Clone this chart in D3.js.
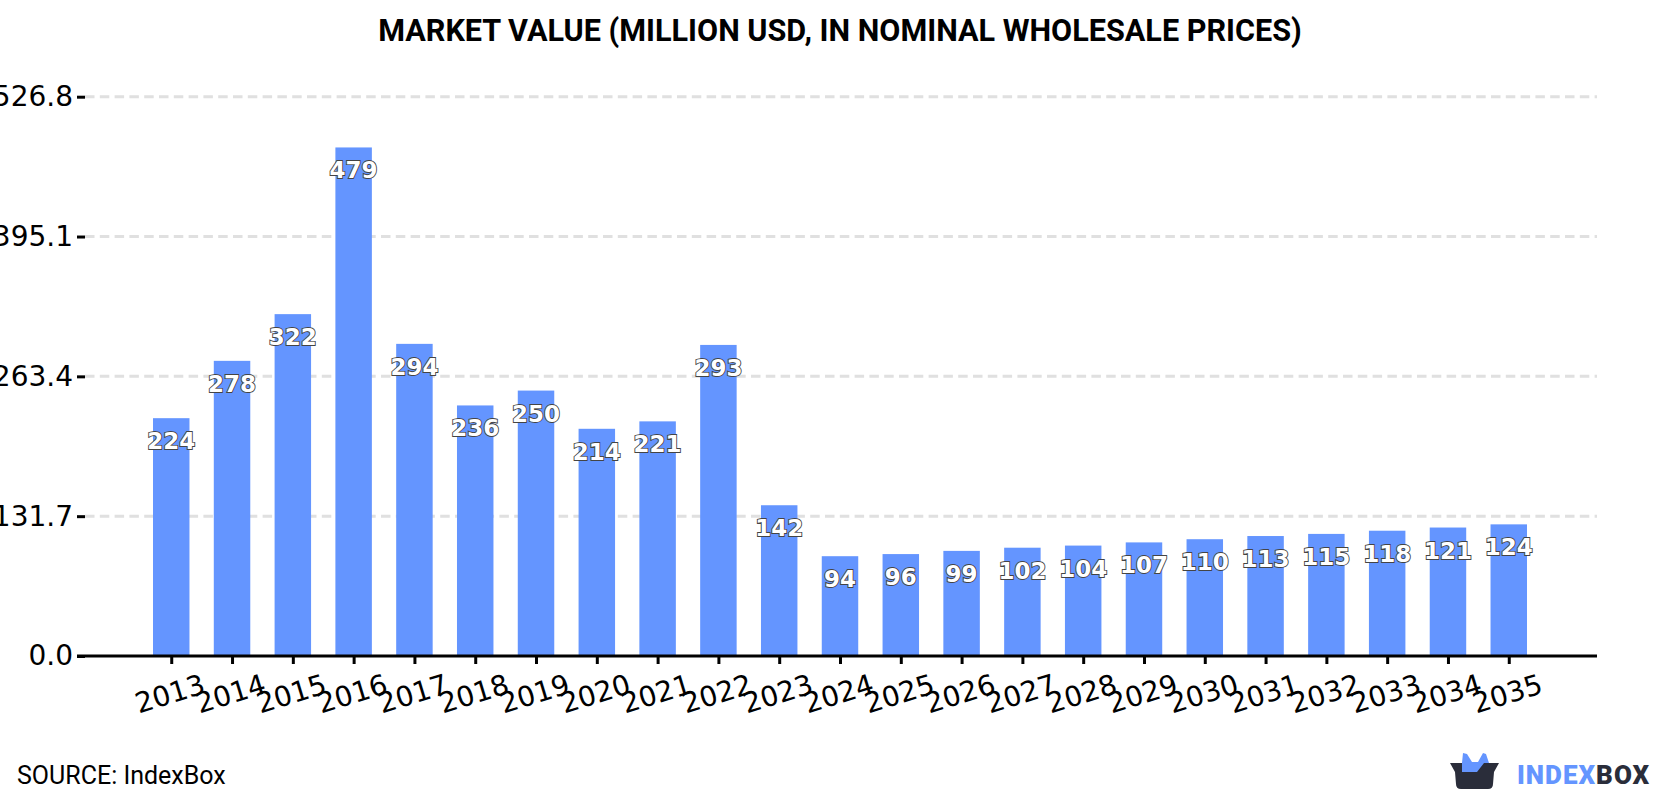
<!DOCTYPE html>
<html>
<head>
<meta charset="utf-8">
<script src="https://cdn.jsdelivr.net/npm/d3@7"></script>
<style>
  html, body { margin: 0; padding: 0; background: #fff; overflow: hidden; }
  svg { display: block; }
</style>
</head>
<body>
<svg id="chart" width="1680" height="800"></svg>
<script>
const years = ["2013","2014","2015","2016","2017","2018","2019","2020","2021","2022","2023","2024","2025","2026","2027","2028","2029","2030","2031","2032","2033","2034","2035"];
const marketValue = [224,278,322,479,294,236,250,214,221,293,142,94,96,99,102,104,107,110,113,115,118,121,124];
const valueTicks = [0,131.7,263.4,395.1,526.8];
const titleText = "MARKET VALUE (MILLION USD, IN NOMINAL WHOLESALE PRICES)";
const sourceText = "SOURCE: IndexBox";

const svg = d3.select("#chart");
const x = d3.scaleBand().domain(years).range([153, 1527]).paddingInner(0.4).paddingOuter(0);
const y = d3.scaleLinear().domain([0, 526.8]).range([656, 96.7]);
const tickX = d => x(d) + x.bandwidth() / 2;

svg.append("text")
  .attr("x", 840).attr("y", 41)
  .attr("text-anchor", "middle")
  .style("font", "700 30.6px Roboto")
  .attr("fill", "#000")
  .text(titleText);

// Horizontal dashed guides behind the bars
svg.append("g").selectAll("line")
  .data(valueTicks.filter(v => v > 0))
  .join("line")
  .attr("x1", 85).attr("x2", 1597)
  .attr("y1", d => y(d)).attr("y2", d => y(d))
  .attr("stroke", "#e0e0e0").attr("stroke-width", 3)
  .attr("stroke-dasharray", "9.5 5.3");

svg.append("g").selectAll("rect")
  .data(years)
  .join("rect")
  .attr("x", d => x(d))
  .attr("width", x.bandwidth())
  .attr("y", (d, i) => y(marketValue[i]))
  .attr("height", (d, i) => y(0) - y(marketValue[i]))
  .attr("fill", "#6495ff");

// Value axis
const yAxis = d3.axisLeft(y).tickValues(valueTicks).tickFormat(d3.format(".1f")).tickSize(8).tickPadding(4);
const yG = svg.append("g").attr("transform", "translate(85,0)").call(yAxis);
yG.select(".domain").remove();
yG.selectAll("line").attr("stroke", "#000").attr("stroke-width", 3);
yG.selectAll("text").style("font", "28px 'DejaVu Sans'").attr("fill", "#000");

// Year axis
const xAxis = d3.axisBottom(d3.scalePoint().domain(years).range([tickX(years[0]), tickX(years[years.length - 1])]))
  .tickSize(8).tickSizeOuter(0);
const xG = svg.append("g").attr("transform", "translate(0,656)").call(xAxis);
xG.select(".domain").remove();
xG.selectAll("line").attr("stroke", "#000").attr("stroke-width", 3);
xG.selectAll("text")
  .style("font", "28px 'DejaVu Sans'")
  .attr("fill", "#000")
  .attr("text-anchor", "middle")
  .attr("dy", null)
  .attr("y", 0)
  .attr("transform", "translate(1,47) rotate(-17)");

svg.append("line")
  .attr("x1", 77).attr("x2", 1597)
  .attr("y1", 656).attr("y2", 656)
  .attr("stroke", "#000").attr("stroke-width", 3);

// Value labels inside the top of each bar
svg.append("g").selectAll("text")
  .data(years)
  .join("text")
  .attr("x", d => tickX(d))
  .attr("y", (d, i) => y(marketValue[i]) + 31)
  .attr("text-anchor", "middle")
  .style("font", "700 23px 'DejaVu Sans'")
  .attr("fill", "#fff")
  .attr("stroke", "#444")
  .attr("stroke-width", 1.8)
  .attr("paint-order", "stroke")
  .text((d, i) => marketValue[i]);

svg.append("text")
  .attr("x", 17).attr("y", 784)
  .style("font", "25px Roboto")
  .attr("fill", "#000")
  .text(sourceText);

// Brand mark and wordmark
const logo = svg.append("g");
logo.append("path")
  .attr("d", "M1461 773 L1463 753 L1467 754 L1472 762 L1478 762 L1483 753 L1486 754 L1489 763 L1490 770 L1478 773 Z")
  .attr("fill", "#6495ff");
logo.append("path")
  .attr("d", "M1450 763 L1462 763 L1462 772 L1477 772 L1484 763 L1499 763 L1494 772 L1493 784 Q1493 789 1488 789 L1461 789 Q1456 789 1456 784 L1455 772 Z")
  .attr("fill", "#2a2d3a");
const word = logo.append("text")
  .attr("x", 1517).attr("y", 784)
  .style("font", "900 26px Roboto")
  .style("letter-spacing", "1px");
word.append("tspan").attr("fill", "#6495ff").text("INDEX");
word.append("tspan").attr("fill", "#2a2d3a").text("BOX");
</script>
</body>
</html>
